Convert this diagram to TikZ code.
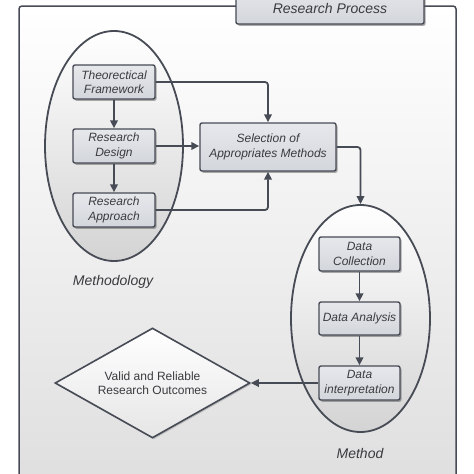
\documentclass[tikz,border=0pt]{standalone}
\usepackage{fontspec}
\setmainfont{Liberation Sans}
\usetikzlibrary{shapes.geometric,arrows.meta,shadows,positioning}
\definecolor{lineC}{HTML}{474B55}
\definecolor{boxTop}{HTML}{E6E8EC}
\definecolor{boxBot}{HTML}{D3D6DB}
\definecolor{txtC}{HTML}{3A3B3F}
\begin{document}
\begin{tikzpicture}[x=1pt,y=-1pt,
  stepbox/.style={draw=lineC, line width=1.4pt, rounded corners=2pt,
    top color=boxTop, bottom color=boxBot, text=txtC, align=center,
    font=\fontsize{12}{14.5}\selectfont\itshape, inner sep=0pt,
    drop shadow={shadow xshift=1.6pt, shadow yshift=-1.8pt, fill=black!60, opacity=0.55}},
  oval/.style={ellipse, draw=lineC, line width=1.8pt, inner sep=0pt,
    top color=white, bottom color=black!17},
  flow/.style={draw=lineC, line width=1.8pt, rounded corners=3pt,
    -{Triangle[length=8pt,width=7.5pt]}},
  lab/.style={text=txtC, font=\fontsize{14}{16}\selectfont\itshape}
]
\useasboundingbox (0,0) rectangle (474,474);
% frame
\draw[line width=1.5pt, draw=lineC, rounded corners=3pt, top color=white, bottom color=black!13]
  (19,6) rectangle (456,500);
% title
\node[stepbox, minimum width=188pt, minimum height=40pt] (title) at (330,4) {};
\node[lab] (titletext) at (330,8) {Research Process};
% ellipses
\node[oval, minimum width=138pt, minimum height=230pt] (m1) at (114,146) {};
\node[oval, minimum width=139pt, minimum height=227pt] (m2) at (360.5,318.5) {};
% boxes
\node[stepbox, minimum width=82pt, minimum height=34pt] (tf) at (114,82) {Theorectical\\Framework};
\node[stepbox, minimum width=82pt, minimum height=34pt] (rd) at (114,146) {Research\\Design};
\node[stepbox, minimum width=82pt, minimum height=34pt] (ra) at (114,210) {Research\\Approach};
\node[stepbox, minimum width=136pt, minimum height=48pt] (sel) at (268,147) {Selection of\\Appropriates Methods};
\node[stepbox, minimum width=81pt, minimum height=34pt] (dc) at (359.5,254) {Data\\Collection};
\node[stepbox, minimum width=81pt, minimum height=33pt] (da) at (359.5,318.5) {Data Analysis};
\node[stepbox, minimum width=81pt, minimum height=34pt] (di) at (359.5,383) {Data\\interpretation};
% diamond
\node[diamond, draw=lineC, line width=1.6pt, inner sep=0pt, aspect=1.77,
  minimum width=195pt, minimum height=110pt, top color=white, bottom color=black!10,
  text=txtC, align=center, font=\fontsize{12}{14.5}\selectfont,
  drop shadow={shadow xshift=1.2pt, shadow yshift=-1.5pt, fill=black!50, opacity=0.4}]
  (out) at (152.5,383) {Valid and Reliable\\Research Outcomes};
% labels
\node[lab] (l1) at (113,282) {Methodology};
\node[lab] (l2) at (360,453) {Method};
% connectors
\draw[flow] (tf.east) -| (sel.north);
\draw[flow] (tf.south) -- (rd.north);
\draw[flow] (rd.south) -- (ra.north);
\draw[flow] (rd.east) -- (rd.east -| sel.west);
\draw[flow] (ra.east) -| (sel.south);
\draw[flow] (sel.east) -| (m2.north);
\draw[flow] (dc.south) -- (da.north);
\draw[flow] (da.south) -- (di.north);
\draw[flow] (di.west) -- (out.east);
\end{tikzpicture}
\end{document}
